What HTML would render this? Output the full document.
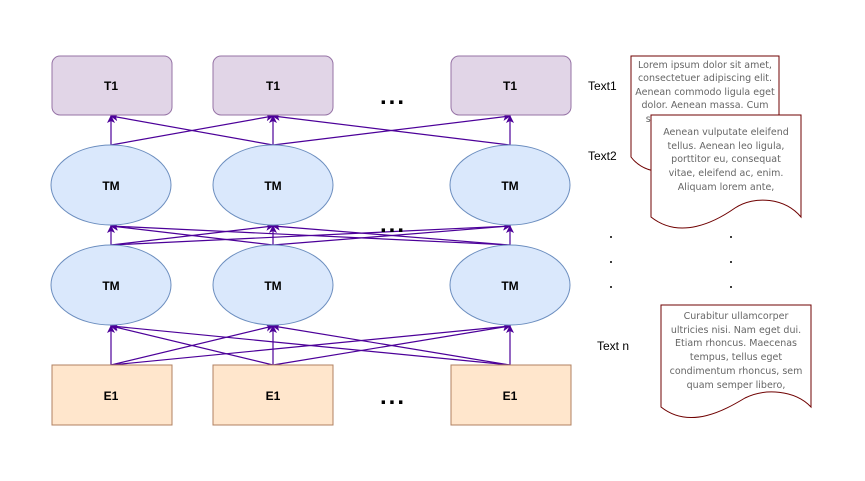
<!DOCTYPE html>
<html><head><meta charset="utf-8"><style>
html,body{margin:0;padding:0;background:#fff;}
svg{display:block;font-family:"Liberation Sans",sans-serif;}
</style></head><body>
<svg width="865" height="481" viewBox="0 0 865 481">
<defs>
<marker id="a" markerWidth="8" markerHeight="8" refX="7" refY="4" orient="auto" markerUnits="userSpaceOnUse">
<path d="M0,0 L8,4 L0,8 L2,4 Z" fill="#4c0099"/>
</marker>
</defs>
<g stroke="#4c0099" stroke-width="1.2" fill="none" marker-end="url(#a)">
<line x1="111" y1="145" x2="111" y2="116"/>
<line x1="111" y1="145" x2="273" y2="116"/>
<line x1="273" y1="145" x2="111" y2="116"/>
<line x1="273" y1="145" x2="273" y2="116"/>
<line x1="273" y1="145" x2="510" y2="116"/>
<line x1="510" y1="145" x2="273" y2="116"/>
<line x1="510" y1="145" x2="510" y2="116"/>
<line x1="111" y1="245" x2="111" y2="226"/>
<line x1="111" y1="245" x2="273" y2="226"/>
<line x1="111" y1="245" x2="510" y2="226"/>
<line x1="273" y1="245" x2="111" y2="226"/>
<line x1="273" y1="245" x2="273" y2="226"/>
<line x1="273" y1="245" x2="510" y2="226"/>
<line x1="510" y1="245" x2="111" y2="226"/>
<line x1="510" y1="245" x2="273" y2="226"/>
<line x1="510" y1="245" x2="510" y2="226"/>
<line x1="111" y1="365" x2="111" y2="326"/>
<line x1="111" y1="365" x2="273" y2="326"/>
<line x1="111" y1="365" x2="510" y2="326"/>
<line x1="273" y1="365" x2="111" y2="326"/>
<line x1="273" y1="365" x2="273" y2="326"/>
<line x1="273" y1="365" x2="510" y2="326"/>
<line x1="510" y1="365" x2="111" y2="326"/>
<line x1="510" y1="365" x2="273" y2="326"/>
<line x1="510" y1="365" x2="510" y2="326"/>
</g>
<g fill="#e1d5e7" stroke="#9673a6">
<rect x="52" y="56" width="120" height="59" rx="8"/>
<rect x="213" y="56" width="120" height="59" rx="8"/>
<rect x="451" y="56" width="120" height="59" rx="8"/>
</g>
<g fill="#dae8fc" stroke="#6c8ebf">
<ellipse cx="111" cy="185" rx="60" ry="40"/>
<ellipse cx="273" cy="185" rx="60" ry="40"/>
<ellipse cx="510" cy="185" rx="60" ry="40"/>
<ellipse cx="111" cy="285" rx="60" ry="40"/>
<ellipse cx="273" cy="285" rx="60" ry="40"/>
<ellipse cx="510" cy="285" rx="60" ry="40"/>
</g>
<g fill="#ffe6cc" stroke="#b08060">
<rect x="52" y="365" width="120" height="60"/>
<rect x="213" y="365" width="120" height="60"/>
<rect x="451" y="365" width="120" height="60"/>
</g>
<g font-size="12" font-weight="bold" text-anchor="middle" fill="#000">
<text x="111" y="90">T1</text><text x="273" y="90">T1</text><text x="510" y="90">T1</text>
<text x="111" y="190">TM</text><text x="273" y="190">TM</text><text x="510" y="190">TM</text>
<text x="111" y="290">TM</text><text x="273" y="290">TM</text><text x="510" y="290">TM</text>
<text x="111" y="400">E1</text><text x="273" y="400">E1</text><text x="510" y="400">E1</text>
</g>
<g font-size="24" font-weight="bold" text-anchor="middle" fill="#000" letter-spacing="2">
<text x="393" y="104">...</text>
<text x="393" y="232">...</text>
<text x="393" y="404">...</text>
</g>
<g font-size="12" fill="#000">
<text x="588" y="90">Text1</text>
<text x="588" y="160">Text2</text>
<text x="597" y="350">Text n</text>
</g>
<g fill="#000">
<circle cx="611" cy="237" r="1"/><circle cx="611" cy="262" r="1"/><circle cx="611" cy="287" r="1"/>
<circle cx="731" cy="237" r="1"/><circle cx="731" cy="262" r="1"/><circle cx="731" cy="287" r="1"/>
</g>
<g font-family="DejaVu Sans, sans-serif" font-size="9.5" fill="#666" text-anchor="middle">
<path d="M631,56 H779 V160 C755,145 725,148 705,160 C690,170 650,182 631,157 Z" fill="#fff" stroke="#6f0000"/>
<text x="705" y="68">Lorem ipsum dolor sit amet,</text>
<text x="705" y="81">consectetuer adipiscing elit.</text>
<text x="705" y="95">Aenean commodo ligula eget</text>
<text x="705" y="108">dolor. Aenean massa. Cum</text>
<text x="705" y="122">sociis natoque penatibus</text>
<path d="M651,115 H801 V217 C785,198 755,195 735,208 C715,222 680,240 651,217 Z" fill="#fff" stroke="#6f0000"/>
<text x="726" y="135">Aenean vulputate eleifend</text>
<text x="726" y="149">tellus. Aenean leo ligula,</text>
<text x="726" y="162">porttitor eu, consequat</text>
<text x="726" y="176">vitae, eleifend ac, enim.</text>
<text x="726" y="190">Aliquam lorem ante,</text>
<path d="M661,305 H811 V407 C795,390 765,388 745,398 C725,410 690,430 661,407 Z" fill="#fff" stroke="#6f0000"/>
<text x="736" y="319">Curabitur ullamcorper</text>
<text x="736" y="333">ultricies nisi. Nam eget dui.</text>
<text x="736" y="346">Etiam rhoncus. Maecenas</text>
<text x="736" y="360">tempus, tellus eget</text>
<text x="736" y="374">condimentum rhoncus, sem</text>
<text x="736" y="388">quam semper libero,</text>
</g>
</svg>
</body></html>
